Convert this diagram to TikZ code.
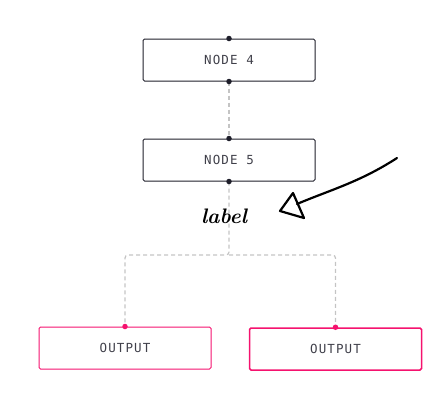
\documentclass[tikz,border=0pt]{standalone}
\usepackage{fontspec}
\setmonofont{DejaVu Sans Mono}
\newfontfamily\boxfont{DejaVu Sans Mono}[LetterSpace=9]
\definecolor{dark}{HTML}{1E1E2A}
\definecolor{pinkc}{HTML}{F5126E}
\definecolor{dashc}{HTML}{C4C4C4}
\begin{document}
\begin{tikzpicture}[x=1pt,y=-1pt,
  nodebox/.style={draw=dark,line width=1pt,rounded corners=1.5pt,minimum width=172pt,minimum height=42pt,inner sep=0pt,text=dark!85,font=\boxfont\fontsize{12.5}{13}\selectfont},
  outbox/.style={draw=pinkc,line width=1pt,rounded corners=1.5pt,minimum width=172pt,minimum height=42pt,inner sep=0pt,text=dark!85,font=\boxfont\fontsize{12.5}{13}\selectfont},
  pdot/.style={circle,fill=#1,inner sep=0pt,minimum size=5.5pt},
  conn/.style={draw=dashc,line width=1.2pt,dash pattern=on 4pt off 3pt}]
\useasboundingbox (0,0) rectangle (431,400);
\node[nodebox] (n4) at (229,60) {NODE 4};
\node[nodebox] (n5) at (229,160) {NODE 5};
\node[outbox] (o1) at (125,348) {OUTPUT};
\node[outbox,line width=1.5pt] (o2) at (335.5,349) {OUTPUT};
\draw[conn] (n4.south) -- (n5.north);
\coordinate (j) at (229,255);
\draw[conn,rounded corners=3pt] (n5.south) -- (j) -| (o1.north);
\draw[conn,rounded corners=3pt] (j) -| (o2.north);
\node[pdot=dark] (d1) at (n4.north) {};
\node[pdot=dark] (d2) at (n4.south) {};
\node[pdot=dark] (d3) at (n5.north) {};
\node[pdot=dark] (d4) at (n5.south) {};
\node[pdot=pinkc] (d5) at (o1.north) {};
\node[pdot=pinkc] (d6) at (o2.north) {};
\node[font=\itshape\bfseries\fontsize{21}{22}\selectfont,inner sep=1pt] (lab) at (224,216) {label};
\coordinate (as) at (397,158);
\coordinate (tip) at (280,211);
\draw[line width=2.2pt,line cap=round] (as) .. controls (360,182) and (330,190) .. (297,204);
\draw[line width=2.2pt,line join=round] (tip) -- (293,193) -- (304,218) -- cycle;
\end{tikzpicture}
\end{document}
